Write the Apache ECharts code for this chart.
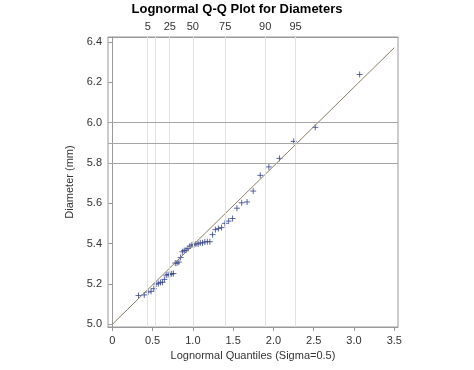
<!DOCTYPE html>
<html><head><meta charset="utf-8">
<script src="https://cdn.jsdelivr.net/npm/echarts@6/dist/echarts.min.js"></script>
<style>html,body{margin:0;padding:0;background:#fff}#c{width:474px;height:370px}</style>
</head><body><div id="c"></div>
<script>
// Lognormal quantiles (sigma=0.5) for each ordered observation
const quantiles = [0.326,0.397,0.444,0.482,0.515,0.544,0.572,0.598,0.623,0.647,
  0.670,0.693,0.715,0.737,0.759,0.782,0.804,0.826,0.848,0.870,
  0.893,0.916,0.939,0.963,0.988,1.013,1.038,1.065,1.092,1.120,
  1.149,1.180,1.211,1.245,1.280,1.317,1.356,1.398,1.444,1.493,
  1.547,1.606,1.673,1.749,1.837,1.943,2.075,2.252,2.519,3.070];
// Ordered diameters (mm)
const diameters = [5.143,5.146,5.160,5.164,5.177,5.200,5.202,5.208,5.209,5.223,
  5.244,5.247,5.248,5.251,5.252,5.304,5.304,5.309,5.332,5.360,
  5.366,5.368,5.376,5.388,5.394,5.394,5.399,5.399,5.404,5.404,
  5.409,5.410,5.410,5.445,5.470,5.475,5.480,5.501,5.512,5.525,
  5.576,5.603,5.607,5.661,5.739,5.781,5.823,5.907,5.977,6.239];
const xTicks = [0,0.5,1,1.5,2,2.5,3,3.5];
const yTicks = [5.0,5.2,5.4,5.6,5.8,6.0,6.2,6.4];
const pctPositions = [0.4395,0.5270,0.7140,1.0,1.4010,1.8980,2.2750];
const pctLabels = ['5','','25','50','75','90','95'];
const specLimits = [5.8,5.9,6.0];
const refLineX = [0,3.5];
const refLineY = [5.0,6.372];

const FONT = 'Liberation Sans, Arial, sans-serif';
const txt = '#333';
const chart = echarts.init(document.getElementById('c'), null, {renderer:'canvas'});
const xMin = -0.053, xMax = 3.546, yMin = 4.987, yMax = 6.425;

chart.setOption({
  animation:false,
  backgroundColor:'#fff',
  title:{text:'Lognormal Q-Q Plot for Diameters', left:'center', top:-3,
    textStyle:{fontFamily:FONT, fontSize:13, fontWeight:'bold', color:'#000', lineHeight:15}},
  grid:{left:108, top:37, right:76, bottom:43, show:true, borderColor:'#999', borderWidth:1, backgroundColor:'#fff'},
  xAxis:[{
    type:'value', min:xMin, max:xMax, position:'bottom',
    name:'Lognormal Quantiles (Sigma=0.5)', nameLocation:'middle', nameGap:23,
    nameTextStyle:{fontFamily:FONT, fontSize:11, color:txt},
    axisLine:{show:true, lineStyle:{color:'#999'}},
    axisTick:{show:true, length:4, lineStyle:{color:'#999'}, customValues:xTicks},
    axisLabel:{customValues:xTicks, fontFamily:FONT, fontSize:11, color:txt, margin:8,
      formatter:v=>v===0?'0':v.toFixed(1)},
    splitLine:{show:false}
  },{
    type:'value', min:xMin, max:xMax, position:'top',
    axisLine:{show:true, lineStyle:{color:'#999'}},
    axisTick:{show:false},
    axisLabel:{customValues:pctPositions, fontFamily:FONT, fontSize:11, color:txt, margin:5,
      formatter:v=>{let b=0;pctPositions.forEach((p,i)=>{if(Math.abs(p-v)<Math.abs(pctPositions[b]-v))b=i;});return pctLabels[b];}},
    splitLine:{show:false}
  }],
  yAxis:{
    type:'value', min:yMin, max:yMax,
    name:'Diameter (mm)', nameLocation:'middle', nameGap:23,
    nameTextStyle:{fontFamily:FONT, fontSize:11, color:txt},
    axisLine:{show:true, lineStyle:{color:'#999'}},
    axisTick:{show:true, length:4, lineStyle:{color:'#999'}, customValues:yTicks},
    axisLabel:{customValues:yTicks, fontFamily:FONT, fontSize:11, color:txt, margin:6,
      formatter:v=>v.toFixed(1)},
    splitLine:{show:false}
  },
  series:[{
    type:'line', xAxisIndex:0, data:[], silent:true,
    markLine:{silent:true, symbol:'none', label:{show:false},
      lineStyle:{color:'#e2e2e2', width:1, type:'solid'},
      data:pctPositions.map(v=>({xAxis:v}))}
  },{
    type:'line', xAxisIndex:0, data:[], silent:true,
    markLine:{silent:true, symbol:'none', label:{show:false},
      lineStyle:{color:'#a6a6a6', width:1, type:'solid'},
      data:specLimits.map(v=>({yAxis:v}))}
  },{
    type:'line', xAxisIndex:0, showSymbol:false, silent:true,
    lineStyle:{color:'#8a7f62', width:1},
    data:refLineX.map((x,i)=>[x,refLineY[i]])
  },{
    type:'scatter', xAxisIndex:0,
    symbol:'path://M5,0L5,10M0,5L10,5', symbolSize:6,
    itemStyle:{color:'transparent', borderColor:'#34448f', borderWidth:1},
    data:quantiles.map((x,i)=>[x,diameters[i]])
  }]
});
</script></body></html>
